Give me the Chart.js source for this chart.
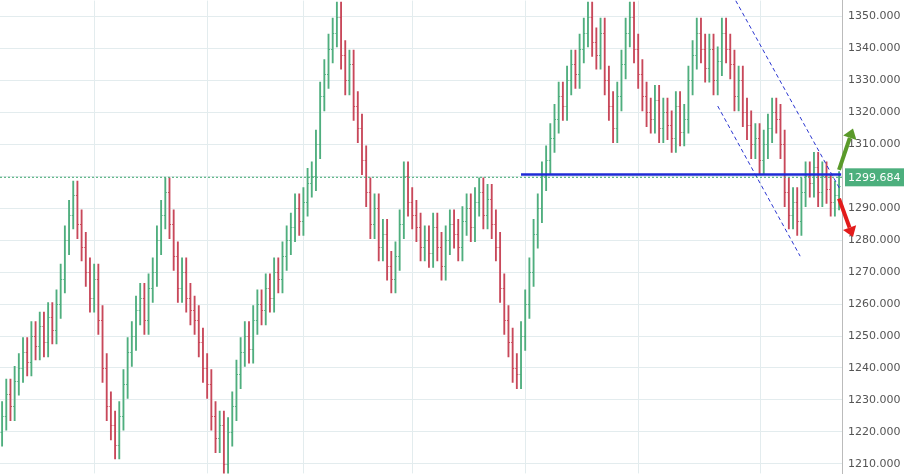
<!DOCTYPE html><html><head><meta charset="utf-8">
<script src="https://cdn.jsdelivr.net/npm/chart.js@4"></script>
<style>body{margin:0;background:#fff;overflow:hidden}#w{width:904px;height:498px;margin-top:-12px}</style></head><body><div id="w"><canvas id="c"></canvas></div>
<script>
const closes=[1225,1232,1228,1236,1240,1245,1242,1250,1247,1253,1248,1256,1252,1260,1268,1280,1288,1294,1285,1278,1270,1262,1268,1255,1240,1228,1222,1216,1225,1235,1245,1250,1258,1262,1255,1265,1270,1280,1288,1295,1285,1275,1265,1270,1262,1258,1255,1248,1240,1235,1225,1218,1222,1210,1220,1228,1238,1245,1250,1246,1255,1260,1258,1265,1262,1270,1268,1275,1280,1284,1290,1286,1292,1298,1300,1310,1325,1332,1340,1345,1350,1338,1330,1335,1322,1315,1305,1295,1285,1290,1278,1282,1272,1268,1275,1285,1300,1292,1288,1284,1278,1280,1276,1284,1278,1272,1280,1285,1282,1278,1286,1290,1284,1292,1295,1288,1293,1285,1278,1265,1255,1248,1240,1238,1250,1260,1270,1282,1290,1300,1305,1312,1318,1325,1322,1330,1335,1332,1340,1345,1350,1342,1338,1345,1330,1322,1315,1325,1335,1345,1350,1340,1332,1325,1320,1318,1324,1315,1320,1316,1312,1322,1314,1318,1330,1338,1345,1340,1334,1340,1330,1336,1345,1340,1335,1325,1330,1320,1316,1310,1312,1305,1310,1315,1320,1318,1310,1295,1288,1292,1286,1295,1300,1298,1303,1295,1300,1296,1292,1294,1297];
const firstOpen=1220;
const wick=4.5;
const tickValues=[1210,1220,1230,1240,1250,1260,1270,1280,1290,1300,1310,1320,1330,1340,1350];
const currentPrice=1299.684;
const supportLevel=1300.6;
const supportStart=124;
const upperChannel=[{x:175.3,y:1355},{x:200.2,y:1296}];
const lowerChannel=[{x:171,y:1322},{x:190.7,y:1275}];
const vGridIdx=[22,49,72,98,125,152,181];

const opens=closes.map((c,i)=>i?closes[i-1]:firstOpen);
const bars=closes.map((c,i)=>({x:i,y:[Math.min(c,opens[i])-wick,Math.max(c,opens[i])+wick]}));
const colors=closes.map((c,i)=>c>=opens[i]?'#4fae7e':'#c8485a');
const N=closes.length;

const extra={id:'extra',
beforeDatasetsDraw(ch){const {ctx,chartArea:a,scales:{x}}=ch;ctx.save();ctx.strokeStyle='#e3ecee';ctx.lineWidth=1;
 vGridIdx.forEach(i=>{const px=Math.round(x.getPixelForValue(i))+.5;ctx.beginPath();ctx.moveTo(px,a.top);ctx.lineTo(px,a.bottom);ctx.stroke();});ctx.restore();},
afterDatasetsDraw(ch){const {ctx,chartArea:a,scales:{x,y}}=ch;ctx.save();ctx.lineWidth=1;
 closes.forEach((c,i)=>{const px=x.getPixelForValue(i);ctx.strokeStyle=colors[i];ctx.beginPath();
  ctx.moveTo(px-1.5,Math.round(y.getPixelForValue(opens[i]))+.5);ctx.lineTo(px,Math.round(y.getPixelForValue(opens[i]))+.5);
  ctx.moveTo(px,Math.round(y.getPixelForValue(c))+.5);ctx.lineTo(px+1.5,Math.round(y.getPixelForValue(c))+.5);ctx.stroke();});
 const py=y.getPixelForValue(currentPrice);
 ctx.fillStyle='#4caf7d';ctx.fillRect(a.right+3,py-9,59,18);
 ctx.fillStyle='#fff';ctx.font='11px "DejaVu Sans"';ctx.textBaseline='middle';ctx.fillText(currentPrice.toFixed(3),a.right+6,py+1);
 function arrow(x0,y0,x1,y1,col){const ang=Math.atan2(y1-y0,x1-x0);ctx.strokeStyle=col;ctx.fillStyle=col;ctx.lineWidth=4;
  const hx=x1-10*Math.cos(ang),hy=y1-10*Math.sin(ang);ctx.beginPath();ctx.moveTo(x0,y0);ctx.lineTo(hx,hy);ctx.stroke();
  ctx.beginPath();ctx.moveTo(x1,y1);ctx.lineTo(hx+7*Math.cos(ang+Math.PI/2),hy+7*Math.sin(ang+Math.PI/2));ctx.lineTo(hx-7*Math.cos(ang+Math.PI/2),hy-7*Math.sin(ang+Math.PI/2));ctx.closePath();ctx.fill();}
 arrow(a.right-3,y.getPixelForValue(1302),a.right+11,y.getPixelForValue(1315),'#5a9a2a');
 arrow(a.right-3,y.getPixelForValue(1293),a.right+11,y.getPixelForValue(1281),'#e21b1b');
 ctx.restore();}};

new Chart(document.getElementById('c'),{type:'bar',
data:{datasets:[
 {type:'line',data:[{x:-0.5,y:currentPrice},{x:N+1,y:currentPrice}],borderColor:'#3fa86e',borderWidth:1,borderDash:[2,2],pointRadius:0},
 {type:'line',data:[{x:supportStart,y:supportLevel},{x:N-0.5,y:supportLevel}],borderColor:'#1f2bd6',borderWidth:2.5,pointRadius:0},
 {type:'line',data:upperChannel,borderColor:'#2a35d0',borderWidth:1,borderDash:[4,3],pointRadius:0},
 {type:'line',data:lowerChannel,borderColor:'#2a35d0',borderWidth:1,borderDash:[4,3],pointRadius:0},
 {data:bars,backgroundColor:colors,barThickness:1.2,borderSkipped:false}]},
options:{responsive:true,maintainAspectRatio:false,animation:false,layout:{padding:0},
 plugins:{legend:{display:false},tooltip:{enabled:false}},
 scales:{x:{type:'linear',min:-0.5,max:N-0.3,display:false,offset:false},
  y:{position:'right',min:1207,max:1355,afterFit(s){s.width=62;},
   afterBuildTicks(s){s.ticks=tickValues.map(v=>({value:v}));},
   ticks:{autoSkip:false,color:'#555',font:{family:'DejaVu Sans',size:11},padding:6,callback:v=>Number(v).toFixed(3)},
   grid:{color:'#e3ecee',drawTicks:false},border:{color:'#bbb'}}}},
plugins:[extra]});
</script></body></html>
